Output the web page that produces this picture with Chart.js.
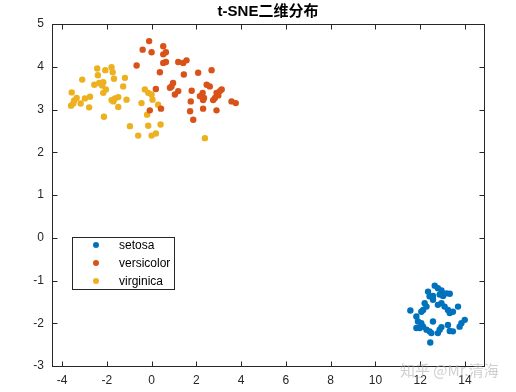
<!DOCTYPE html>
<html>
<head>
<meta charset="utf-8">
<script src="https://cdn.jsdelivr.net/npm/chart.js@4.4.1/dist/chart.umd.min.js"></script>
<style>
    html, body { margin: 0; padding: 0; background: #fff; }
    #wrap { position: relative; width: 516px; height: 392px; }
</style>
</head>
<body>
<div id="wrap"><canvas id="tsne-graph" width="516" height="392"></canvas></div>
<script>
// t-SNE embedding
const setosaX = [12.65, 12.79, 12.95, 12.87, 13.17, 13.32, 13.02, 12.35, 12.42, 12.57, 12.57, 12.20, 12.28, 12.13, 12.05,
    11.56, 12.79, 12.95, 13.09, 13.24, 13.32, 13.69, 13.46, 11.83, 11.90, 12.05, 11.83, 11.98, 12.13, 12.28,
    12.42, 12.50, 12.57, 12.79, 12.87, 12.95, 13.24, 13.32, 13.46, 13.76, 13.99, 13.84, 12.45];
const setosaY = [-1.12, -1.18, -1.23, -1.33, -1.30, -1.31, -1.36, -1.26, -1.37, -1.36, -1.45, -1.53, -1.61, -1.69, -1.73,
    -1.70, -1.57, -1.53, -1.61, -1.69, -1.76, -1.61, -1.73, -1.84, -1.96, -2.00, -2.11, -2.11, -2.08, -2.15,
    -2.19, -2.23, -1.96, -2.23, -2.15, -2.09, -2.04, -2.18, -2.19, -2.08, -1.92, -2.00, -2.45];

const versicolorX = [-0.11, -0.40, 0.00, 0.52, 0.64, 0.52, 0.52, 0.64, -0.67, 0.37, 1.19, 1.41, 1.56, 1.44, 2.08,
    2.68, 0.96, 0.89, 0.82, 1.19, 1.04, 0.19, 1.79, 2.46, 2.60, 2.28, 2.16, 2.34, 2.90, 3.05,
    3.13, 2.98, 2.83, 2.75, 3.57, 3.76, 1.75, 2.30, 1.72, 2.30, 2.90, 1.86, 0.42, -0.08];
const versicolorY = [4.60, 4.40, 4.34, 4.48, 4.34, 4.29, 4.09, 4.11, 4.03, 3.87, 4.11, 4.09, 4.15, 3.82, 3.86,
    3.92, 3.62, 3.54, 3.51, 3.43, 3.35, 3.48, 3.44, 3.58, 3.54, 3.39, 3.31, 3.27, 3.39, 3.43,
    3.47, 3.33, 3.27, 3.22, 3.19, 3.15, 3.19, 3.22, 2.96, 3.02, 2.98, 2.76, 3.02, 2.98];

const virginicaX = [-3.10, -2.43, -2.07, -1.79, -1.74, -1.68, -2.40, -1.19, -2.56, -2.34, -2.16, -2.21, -2.04, -1.27, -2.16,
    -3.57, -3.35, -3.46, -3.50, -3.60, -3.17, -2.98, -2.75, -2.79, -1.79, -1.64, -1.49, -1.71, -1.12, -1.49,
    -2.13, -0.97, -0.60, -0.15, 0.00, 0.19, 0.40, -0.45, -0.30, -0.15, 0.00, 0.04, 0.29, -0.20, 2.38];
const virginicaY = [3.70, 3.96, 3.92, 3.99, 3.87, 3.72, 3.80, 3.74, 3.58, 3.62, 3.64, 3.56, 3.47, 3.54, 3.39,
    3.40, 3.27, 3.21, 3.14, 3.09, 3.14, 3.26, 3.30, 3.05, 3.22, 3.26, 3.29, 3.19, 3.23, 3.06,
    2.83, 2.61, 2.39, 2.62, 2.39, 2.44, 2.65, 3.15, 3.47, 3.39, 3.35, 3.23, 3.11, 2.88, 2.33];

const speciesNames = ["setosa", "versicolor", "virginica"];
const xTicks = [-4, -2, 0, 2, 4, 6, 8, 10, 12, 14];
const yTicks = [-3, -2, -1, 0, 1, 2, 3, 4, 5];
const titleText = "t-SNE二维分布";

const FONT = "'Liberation Sans', Arial, 'Noto Sans CJK SC', sans-serif";
const AXIS_COLOR = "#262626";

function toPoints(xs, ys) {
    return xs.map((x, i) => ({ x: x, y: ys[i] }));
}

// title over the axes, box, inward ticks, legend and watermark in the MATLAB look
let matlabLook = {
    id: 'matlabLook',
    afterDatasetsDraw(chart) {
        let ctx = chart.ctx;
        let a = chart.chartArea;
        let xs = chart.scales.x, ys = chart.scales.y;
        let l = Math.round(a.left) + 0.5, r = Math.round(a.right) + 0.5;
        let t = Math.round(a.top) + 0.5, b = Math.round(a.bottom) + 0.5;
        ctx.save();

        ctx.font = "bold 15px " + FONT;
        ctx.fillStyle = "#000";
        ctx.textAlign = "center";
        ctx.textBaseline = "middle";
        ctx.fillText(titleText, (a.left + a.right) / 2, 12);

        ctx.strokeStyle = AXIS_COLOR;
        ctx.lineWidth = 1;
        ctx.strokeRect(l, t, r - l, b - t);
        ctx.beginPath();
        xTicks.forEach(v => {
            let px = Math.round(xs.getPixelForValue(v)) + 0.5;
            ctx.moveTo(px, b); ctx.lineTo(px, b - 5);
            ctx.moveTo(px, t); ctx.lineTo(px, t + 5);
        });
        yTicks.forEach(v => {
            let py = Math.round(ys.getPixelForValue(v)) + 0.5;
            ctx.moveTo(l, py); ctx.lineTo(l + 5, py);
            ctx.moveTo(r, py); ctx.lineTo(r - 5, py);
        });
        ctx.stroke();

        // legend box
        let lx = 72.5, ly = 237.5, lw = 102, lh = 52;
        ctx.fillStyle = "#fff";
        ctx.fillRect(lx, ly, lw, lh);
        ctx.strokeStyle = AXIS_COLOR;
        ctx.strokeRect(lx, ly, lw, lh);
        ctx.font = "12px " + FONT;
        ctx.textBaseline = "middle";
        ctx.textAlign = "left";
        chart.data.datasets.forEach((ds, i) => {
            let ry = 245 + i * 18;
            ctx.fillStyle = ds.backgroundColor;
            ctx.beginPath();
            ctx.arc(96, ry, 3, 0, Math.PI * 2);
            ctx.fill();
            ctx.fillStyle = "#000";
            ctx.fillText(ds.label, 119, ry + 1);
        });

        // watermark
        ctx.font = "15px 'Noto Sans CJK SC', sans-serif";
        ctx.fillStyle = "rgba(175,175,175,0.6)";
        ctx.fillText("知乎 @Mr.清海", 400, 370);
        ctx.restore();
    }
};

let oTsneGraph = {
    init: function() {
        this.cacheDom();
        this.setGraphData();
    },
    cacheDom: function() {
        this.oGraph = document.getElementById('tsne-graph').getContext('2d');
    },
    setGraphData() {
        let data = {
            datasets: [
                {
                    label: speciesNames[0],
                    data: toPoints(setosaX, setosaY),
                    backgroundColor: "#0072BD",
                    borderWidth: 0,
                    pointRadius: 3.2
                },
                {
                    label: speciesNames[1],
                    data: toPoints(versicolorX, versicolorY),
                    backgroundColor: "#D95319",
                    borderWidth: 0,
                    pointRadius: 3.2
                },
                {
                    label: speciesNames[2],
                    data: toPoints(virginicaX, virginicaY),
                    backgroundColor: "#EDB120",
                    borderWidth: 0,
                    pointRadius: 3.2
                }
            ]
        };

        let tickFont = { family: FONT, size: 12 };

        let options = {
            responsive: false,
            animation: false,
            layout: { padding: { left: 0, right: 32, top: 24, bottom: 0 } },
            plugins: {
                title: { display: false },
                legend: { display: false },
                tooltip: { enabled: false }
            },
            scales: {
                x: {
                    type: 'linear',
                    min: -4.45,
                    max: 14.85,
                    afterBuildTicks: s => { s.ticks = xTicks.map(v => ({ value: v })); },
                    afterFit: s => { s.height = 26; },
                    grid: { display: false, drawTicks: false },
                    border: { display: false },
                    ticks: { font: tickFont, color: AXIS_COLOR, padding: 7, maxRotation: 0 }
                },
                y: {
                    type: 'linear',
                    min: -3,
                    max: 5,
                    afterBuildTicks: s => { s.ticks = yTicks.map(v => ({ value: v })); },
                    afterFit: s => { s.width = 52; },
                    grid: { display: false, drawTicks: false },
                    border: { display: false },
                    ticks: { font: tickFont, color: AXIS_COLOR, padding: 8 }
                }
            }
        };

        this.chart = new Chart(this.oGraph, {
            type: 'scatter',
            data: data,
            options: options,
            plugins: [matlabLook]
        });
    }
};

oTsneGraph.init();
</script>
</body>
</html>
